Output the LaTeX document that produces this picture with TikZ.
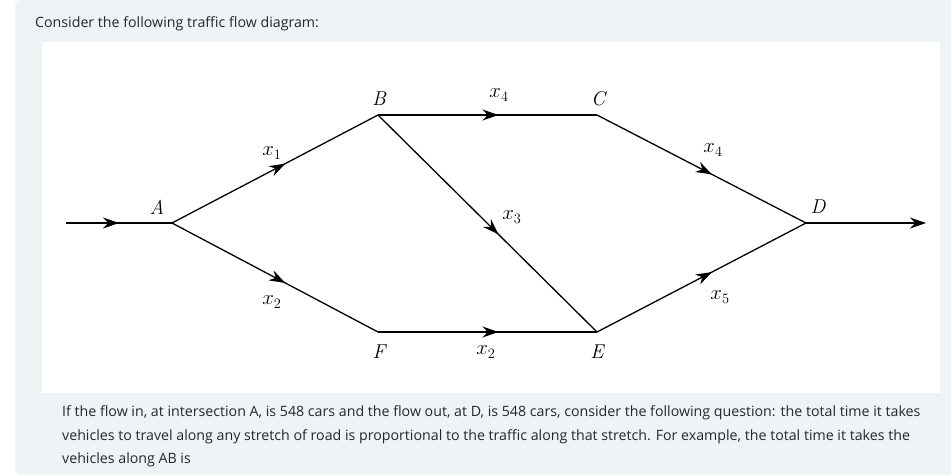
\documentclass[tikz,border=0pt]{standalone}
\usepackage{fontspec}
\setsansfont{Open Sans}
\usetikzlibrary{decorations.markings,arrows.meta}
\begin{document}
\begin{tikzpicture}[x=1pt,y=-1pt,
  road/.style={line width=1.3pt,postaction={decorate},decoration={markings,mark=at position #1 with {\arrow{Stealth[length=16pt,width=11pt]}}}},
  road/.default=0.55,
  lab/.style={font=\fontsize{20}{20}\selectfont\itshape},
  nl/.style={font=\fontsize{20}{20}\selectfont\itshape},
  txt/.style={font=\sffamily\fontsize{14.2}{16}\selectfont,anchor=west,text=black!85,inner sep=0pt}]
\useasboundingbox (0,0) rectangle (951,475);
\fill[white] (0,0) rectangle (951,475);
\fill[rounded corners=6pt,fill={rgb,255:red,238;green,244;blue,246}] (15,0) rectangle (960,475);
\fill[white] (42,42) rectangle (940,393);
\node[txt] (t0) at (35,24) {Consider the following traffic flow diagram:};
\node[txt] (t1) at (62,413) {If the flow in, at intersection A, is 548 cars and the flow out, at D, is 548 cars, consider the following question: the total time it takes};
\node[txt] (t2) at (62,437) {vehicles to travel along any stretch of road is proportional to the traffic along that stretch. For example, the total time it takes the};
\node[txt] (t3) at (62,460) {vehicles along AB is};
\coordinate (in) at (66,223);
\coordinate (out) at (926,223);
\coordinate (A) at (172,223);
\coordinate (B) at (378,115);
\coordinate (C) at (597,115);
\coordinate (D) at (806,223);
\coordinate (E) at (597,332);
\coordinate (F) at (378,332);
\draw[road=0.5] (in) -- (A);
\draw[line width=1.3pt,-{Stealth[length=16pt,width=11pt]}] (D) -- (out);
\draw[road] (A) -- (B);
\draw[road] (A) -- (F);
\draw[road] (B) -- (C);
\draw[road] (C) -- (D);
\draw[road] (B) -- (E);
\draw[road] (F) -- (E);
\draw[road] (E) -- (D);
\node[lab] (la) at (157,207) {A};
\node[lab] (lb) at (379,99) {B};
\node[lab] (lc) at (598,99) {C};
\node[lab] (ld) at (818,207) {D};
\node[lab] (le) at (597,352) {E};
\node[lab] (lf) at (379,352) {F};
\node[nl] (x1) at (272,153) {$x_1$};
\node[nl] (x2a) at (272,302) {$x_2$};
\node[nl] (x4a) at (499,95) {$x_4$};
\node[nl] (x4b) at (713,150) {$x_4$};
\node[nl] (x3) at (512,217) {$x_3$};
\node[nl] (x5) at (720,297) {$x_5$};
\node[nl] (x2b) at (486,352) {$x_2$};
\end{tikzpicture}
\end{document}
